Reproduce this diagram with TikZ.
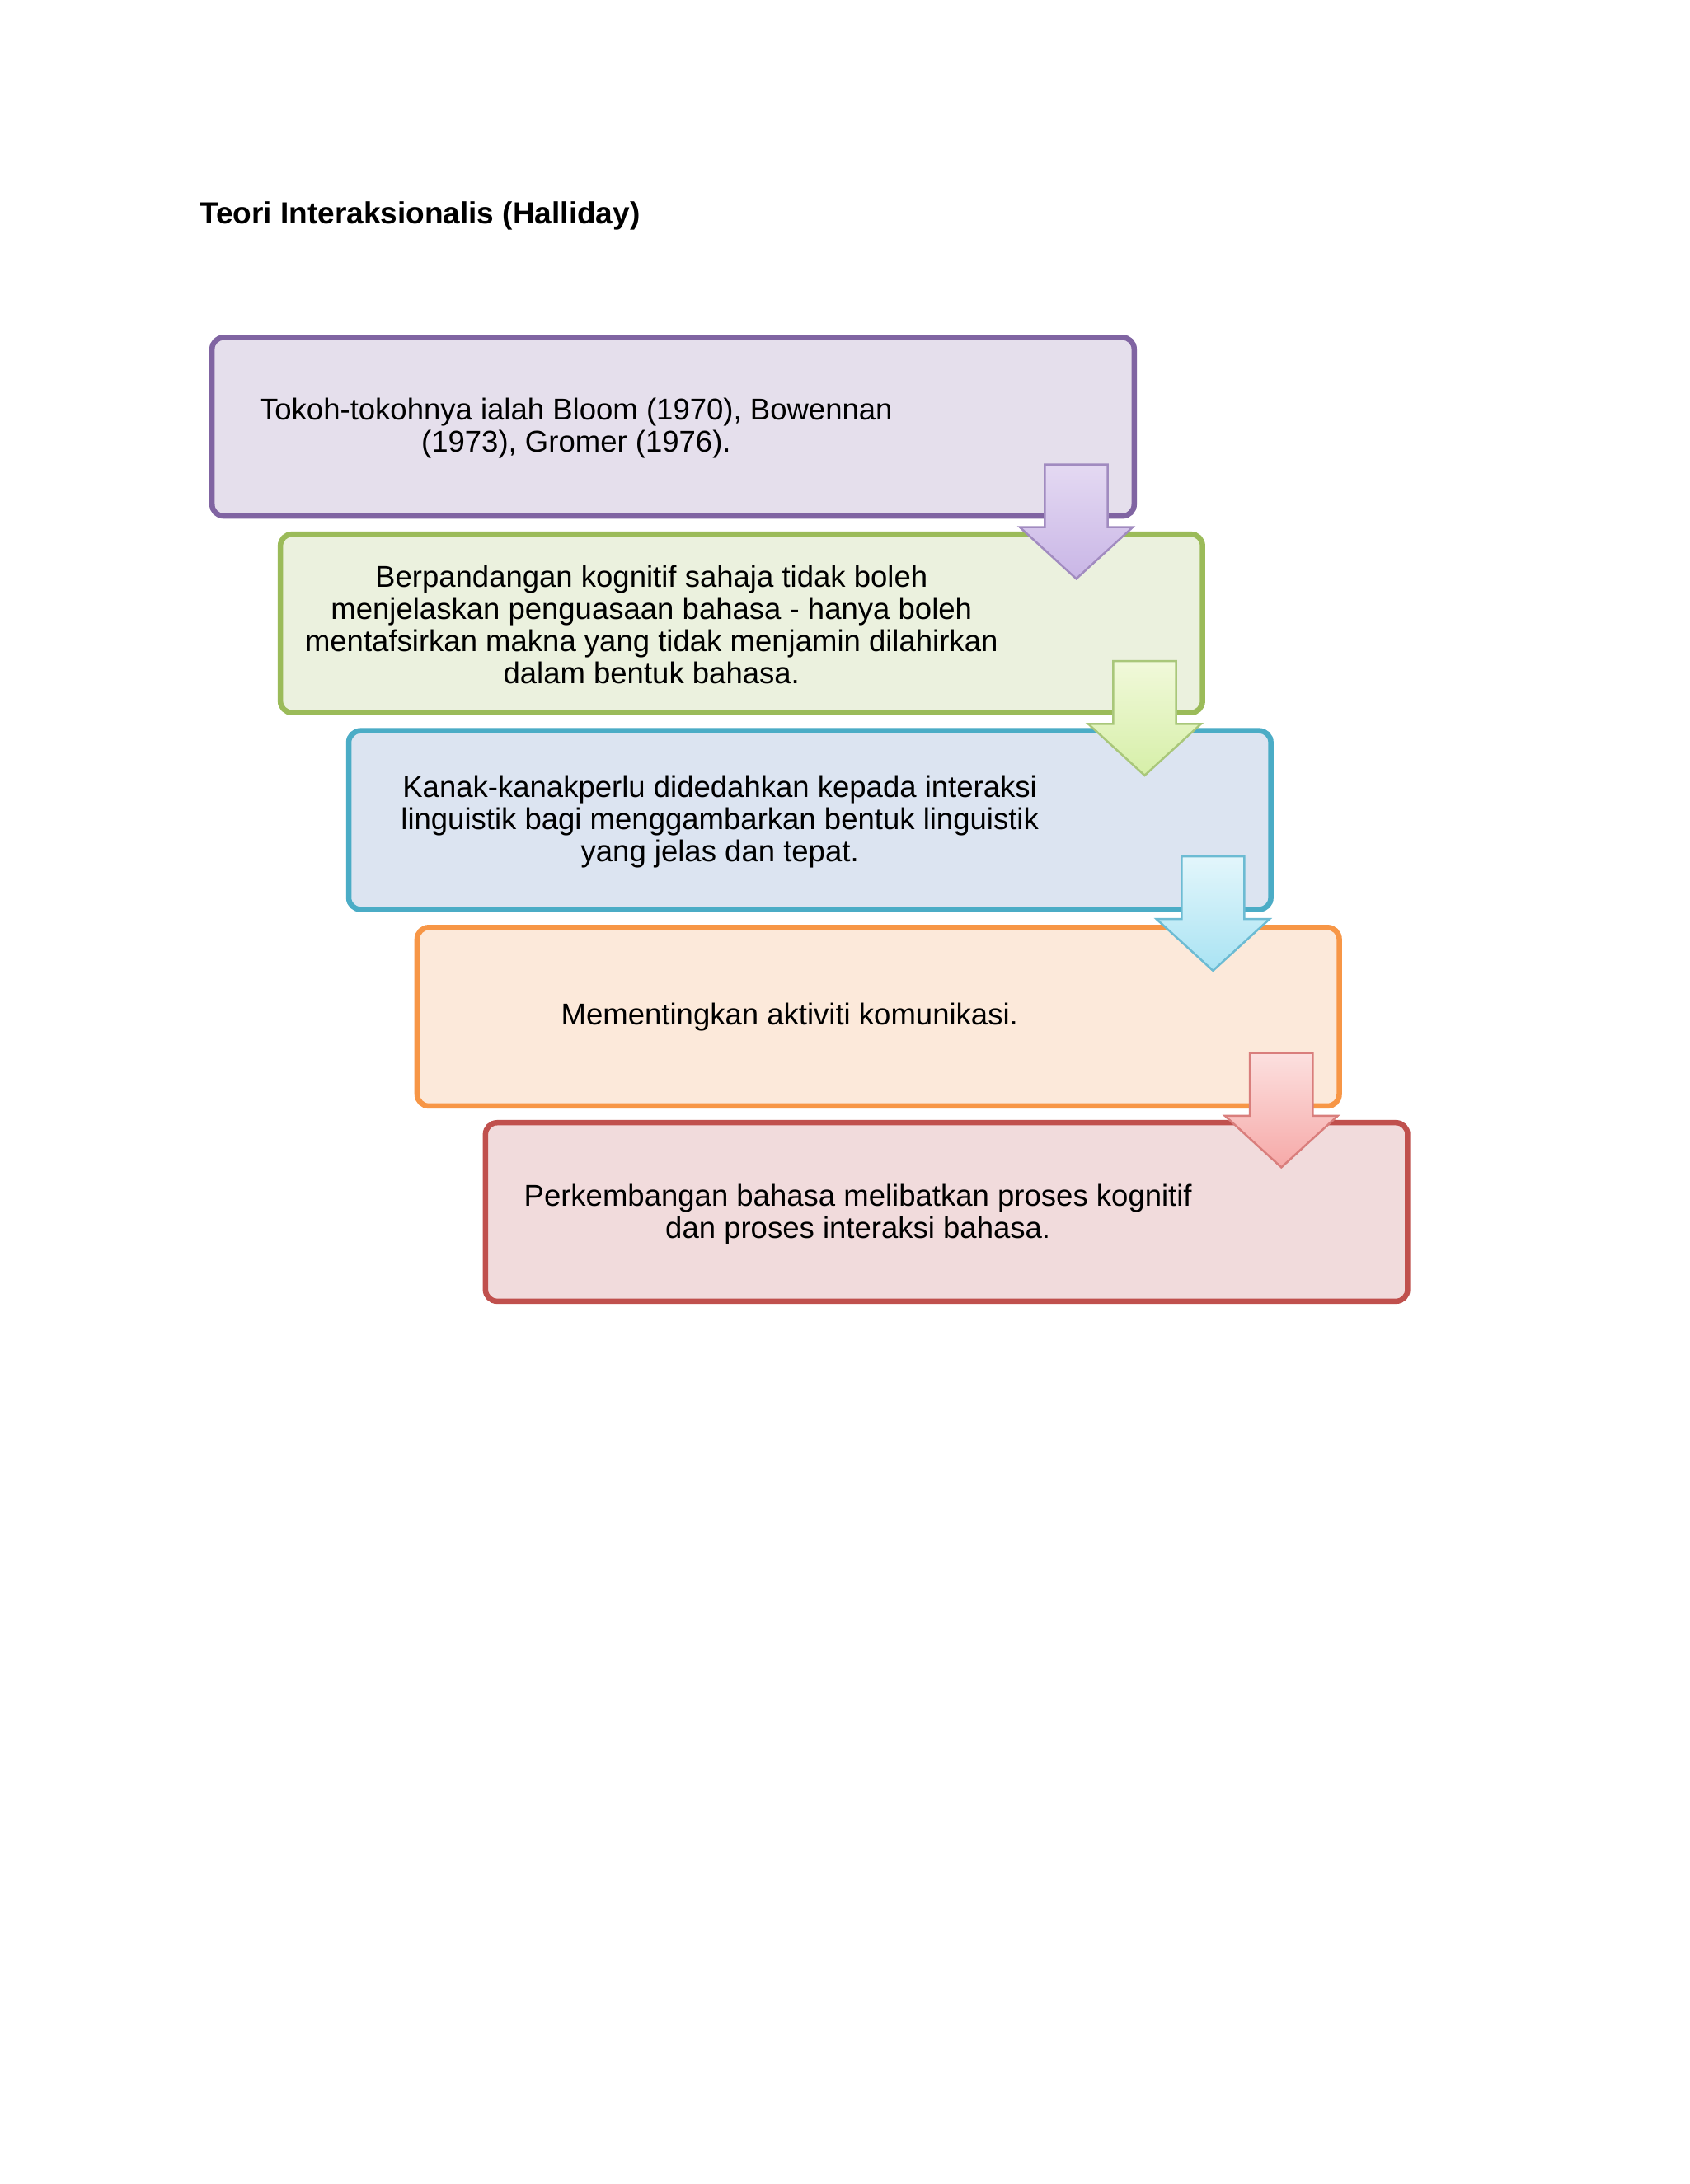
\documentclass[tikz,border=0pt]{standalone}
\usepackage{fontspec}
\setmainfont{Liberation Sans}
\begin{document}
\begin{tikzpicture}[x=1.691pt,y=-1.691pt,
  box/.style={rounded corners=14pt,line width=6.5pt},
  txt/.style={align=center,font=\fontsize{36.5}{39}\selectfont},
  arr/.style={line width=2.5pt}]
\useasboundingbox[fill=white] (0,0) rectangle (1211,1566);
\node[anchor=west,inner sep=0pt,font=\bfseries\fontsize{37}{40}\selectfont] (title) at (143,155) {Teori Interaksionalis (Halliday)};
\def\boxes{1/152/242/8064A2/E5DFEC, 2/201/383/9BBB59/EBF1DE, 3/250/524/4BACC6/DCE4F1, 4/299/665/F79646/FCE9DA, 5/348/805/C0504D/F1DBDC}
\foreach \i/\x/\y/\bc/\fc in \boxes {
  \definecolor{bc\i}{HTML}{\bc}\definecolor{fc\i}{HTML}{\fc}
  \draw[box,draw=bc\i,fill=fc\i] (\x,\y) rectangle ++(661,128);
}
\node[txt] (t1) at (413,307) {Tokoh-tokohnya ialah Bloom (1970), Bowennan\\(1973), Gromer (1976).};
\node[txt] (t2) at (467,448) {Berpandangan kognitif sahaja tidak boleh\\menjelaskan penguasaan bahasa - hanya boleh\\mentafsirkan makna yang tidak menjamin dilahirkan\\dalam bentuk bahasa.};
\node[txt] (t3) at (516,589) {Kanak-kanakperlu didedahkan kepada interaksi\\linguistik bagi menggambarkan bentuk linguistik\\yang jelas dan tepat.};
\node[txt] (t4) at (566,729) {Mementingkan aktiviti komunikasi.};
\node[txt] (t5) at (615,871) {Perkembangan bahasa melibatkan proses kognitif\\dan proses interaksi bahasa.};
\def\arrows{1/749/333/A18BC0/E4D9F2/C9B6E6, 2/798/474/A9C77A/F1F9DA/D6EFA8, 3/847/614/6CBBD3/E3F6FB/A9E3F3, 4/896/755/D97E7C/FCE0DF/F6A9A8}
\foreach \i/\x/\y/\dc/\la/\lb in \arrows {
  \definecolor{ad\i}{HTML}{\dc}\definecolor{la\i}{HTML}{\la}\definecolor{lb\i}{HTML}{\lb}
  \draw[arr,draw=ad\i,top color=la\i,bottom color=lb\i]
    (\x,\y) -- ++(45,0) -- ++(0,45) -- ++(18,0) -- ++(-40.5,37) -- ++(-40.5,-37) -- ++(18,0) -- cycle;
}
\end{tikzpicture}
\end{document}
